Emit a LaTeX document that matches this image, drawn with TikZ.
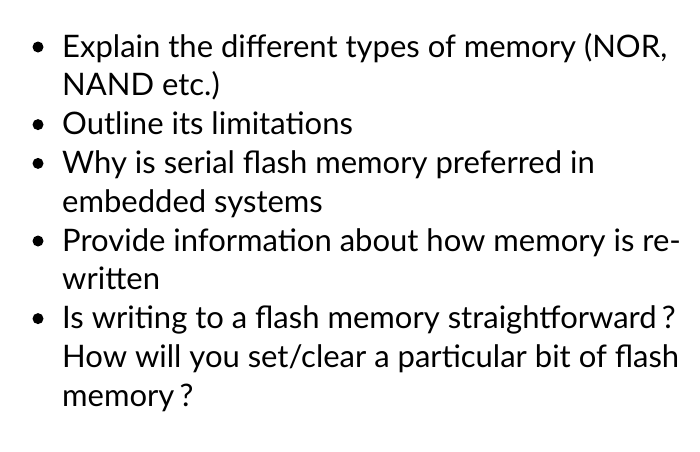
\documentclass[tikz,border=0pt]{standalone}
\usepackage{fontspec}
\setmainfont{Lato}
\begin{document}
\begin{tikzpicture}[x=1pt,y=1pt,
  ln/.style={anchor=base west,inner sep=0pt,font=\fontsize{31}{33}\selectfont},
  bul/.style={circle,fill=black,inner sep=0pt,minimum size=11pt}]
\useasboundingbox[fill=white] (0,0) rectangle (700,-451);
\foreach \t [count=\i from 0] in {
 {Explain the different types of memory (NOR,},
 {NAND etc.)},
 {Outline its limitations},
 {Why is serial flash memory preferred in},
 {embedded systems},
 {Provide information about how memory is re-},
 {written},
 {Is writing to a flash memory straightforward\,?},
 {How will you set/clear a particular bit of flash},
 {memory\,?}}
 \node[ln] (l\i) at (62,{-57-38.8*\i}) {\t};
\foreach \i in {0,2,3,5,7}
 \node[bul] (b\i) at (38,{-47-38.8*\i}) {};
\end{tikzpicture}
\end{document}
